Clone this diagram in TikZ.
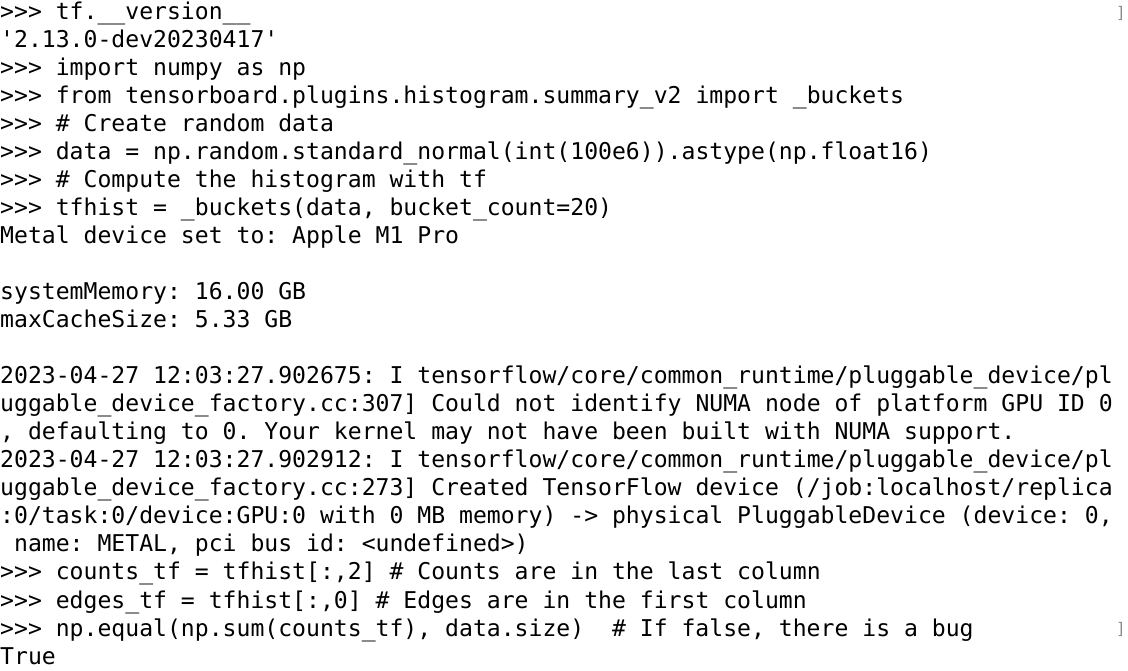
\documentclass[tikz,border=0pt]{standalone}
\usepackage{fontspec}
\setmonofont{DejaVu Sans Mono}[Ligatures=NoCommon]
\begin{document}
\begin{tikzpicture}[x=1pt,y=1pt,
  ln/.style={anchor=base west,inner sep=0pt,font=\fontsize{23.1}{28}\ttfamily,text=black},
  brk/.style={anchor=base,inner sep=0pt,font=\fontsize{16}{18}\ttfamily,text=black!45}]
\useasboundingbox[fill=white] (0,0) rectangle (1128,670);
\def\L#1#2{\node[ln] (l#1) at (0,{670-20-28*#1}) {#2};}
\L{0}{>>> tf.\_\_version\_\_}
\L{1}{'2.13.0-dev20230417'}
\L{2}{>>> import numpy as np}
\L{3}{>>> from tensorboard.plugins.histogram.summary\_v2 import \_buckets}
\L{4}{>>> \# Create random data}
\L{5}{>>> data = np.random.standard\_normal(int(100e6)).astype(np.float16)}
\L{6}{>>> \# Compute the histogram with tf}
\L{7}{>>> tfhist = \_buckets(data, bucket\_count=20)}
\L{8}{Metal device set to: Apple M1 Pro}
\L{10}{systemMemory: 16.00 GB}
\L{11}{maxCacheSize: 5.33 GB}
\L{13}{2023-04-27 12:03:27.902675: I tensorflow/core/common\_runtime/pluggable\_device/pl}
\L{14}{uggable\_device\_factory.cc:307] Could not identify NUMA node of platform GPU ID 0}
\L{15}{, defaulting to 0. Your kernel may not have been built with NUMA support.}
\L{16}{2023-04-27 12:03:27.902912: I tensorflow/core/common\_runtime/pluggable\_device/pl}
\L{17}{uggable\_device\_factory.cc:273] Created TensorFlow device (/job:localhost/replica}
\L{18}{:0/task:0/device:GPU:0 with 0 MB memory) -> physical PluggableDevice (device: 0,}
\L{19}{\hspace*{13.9pt}name: METAL, pci bus id: <undefined>)}
\L{20}{>>> counts\_tf = tfhist[:,2] \# Counts are in the last column}
\L{21}{>>> edges\_tf = tfhist[:,0] \# Edges are in the first column}
\L{22}{>>> np.equal(np.sum(counts\_tf), data.size)\hspace*{27.8pt}\# If false, there is a bug}
\L{23}{True}
\node[brk] (b1) at (1121,{670-19}) {]};
\node[brk] (b2) at (1121,{670-635}) {]};
\end{tikzpicture}
\end{document}
